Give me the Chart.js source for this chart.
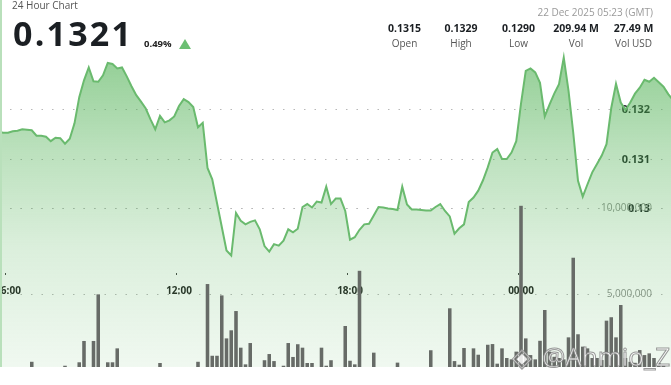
<!DOCTYPE html>
<html>
<head>
<meta charset="utf-8">
<script src="https://cdn.jsdelivr.net/npm/chart.js@4.4.1/dist/chart.umd.min.js"></script>
<style>
  body { margin: 0; background: #fff; font-family: "Open Sans", sans-serif; }
  #wrap { position: absolute; left: 0; top: 0; width: 671px; height: 367px; overflow: hidden; }
  #c { position: absolute; left: -11px; top: 0; }
  #edge { position: absolute; left: 0; top: 0; width: 2px; height: 367px; background: #b9e0bb; }
  .t { position: absolute; white-space: nowrap; }
  #title { left: 12px; top: -2px; font-size: 10px; color: #555; }
  #price { left: 13px; top: 10px; font-size: 34px; font-weight: 700; color: #1b1f23; letter-spacing: 2.2px; }
  #chg { left: 144px; top: 37px; font-size: 9.5px; font-weight: 700; color: #222; }
  #tri { left: 179px; top: 39px; width: 0; height: 0; border-left: 6.5px solid transparent; border-right: 6.5px solid transparent; border-bottom: 10px solid #6cbf73; }
  #date { right: 18px; top: 5px; font-size: 10px; color: #9a9a9a; }
  .stat { position: absolute; top: 21px; width: 60px; text-align: center; }
  .stat b { display: block; font-size: 10.5px; color: #1b1f23; line-height: 15px; }
  .stat span { display: block; font-size: 10px; color: #555; line-height: 15px; }
  #wm { position: absolute; left: 512px; top: 338px; font-size: 26px; color: rgba(255,255,255,0.85);
        -webkit-text-stroke: 1px rgba(120,120,120,0.75); white-space: nowrap; }
  #wm i { font-style: normal; font-family: "DejaVu Sans"; font-size: 26px; margin-right: 10px; }
</style>
</head>
<body>
<div id="wrap"><canvas id="c" width="684" height="390"></canvas></div>
<div id="edge"></div>
<div class="t" id="title">24 Hour Chart</div>
<div class="t" id="price">0.1321</div>
<div class="t" id="chg">0.49%</div>
<div class="t" id="tri"></div>
<div class="t" id="date">22 Dec 2025 05:23 (GMT)</div>
<div id="stats"></div>
<div id="wm"><i>◈</i>@Ahmio_Z</div>

<script>
"use strict";

// 10 minute steps, 05:20 -> 05:20 next day
var TIMES = [];
for (var m = 5 * 60 + 20; m <= 29 * 60 + 20; m += 10) {
    var h = Math.floor(m / 60) % 24, mm = m % 60;
    TIMES.push((h < 10 ? '0' : '') + h + ':' + (mm < 10 ? '0' : '') + mm);
}
var TIME_TICKS = ['06:00', '12:00', '18:00', '00:00'];

var PRICE = [
    0.13156, 0.13156, 0.13156, 0.13154, 0.13154, 0.13157, 0.13158, 0.13161, 0.13160, 0.13159,
    0.13148, 0.13148, 0.13146, 0.13137, 0.13144, 0.13143, 0.13132, 0.13142, 0.13173, 0.13226,
    0.13260, 0.13286, 0.13258, 0.13257, 0.13270, 0.13295, 0.13293, 0.13284, 0.13286, 0.13268,
    0.13248, 0.13230, 0.13217, 0.13203, 0.13181, 0.13161, 0.13188, 0.13175, 0.13179, 0.13187,
    0.13208, 0.13222, 0.13216, 0.13206, 0.13165, 0.13174, 0.13083, 0.13060, 0.13012, 0.12964,
    0.12916, 0.12906, 0.12992, 0.12976, 0.12969, 0.12974, 0.12977, 0.12959, 0.12925, 0.12914,
    0.12929, 0.12926, 0.12936, 0.12959, 0.12953, 0.12960, 0.13004, 0.13010, 0.13003, 0.13015,
    0.13013, 0.13045, 0.13010, 0.13021, 0.13021, 0.12996, 0.12938, 0.12943, 0.12958, 0.12969,
    0.12970, 0.12987, 0.13004, 0.13003, 0.13001, 0.13000, 0.12998, 0.13045, 0.13009, 0.12999,
    0.12999, 0.12998, 0.12997, 0.12997, 0.13004, 0.13010, 0.12996, 0.12985, 0.12950, 0.12961,
    0.12969, 0.13014, 0.13023, 0.13037, 0.13058, 0.13084, 0.13114, 0.13121, 0.13101, 0.13101,
    0.13114, 0.13137, 0.13213, 0.13279, 0.13284, 0.13276, 0.13255, 0.13187, 0.13211, 0.13233,
    0.13252, 0.13306, 0.13239, 0.13154, 0.13057, 0.13025, 0.13050, 0.13074, 0.13091, 0.13108,
    0.13131, 0.13204, 0.13253, 0.13215, 0.13200, 0.13215, 0.13233, 0.13245, 0.13261, 0.13257,
    0.13265, 0.13256, 0.13247, 0.13232, 0.13220
];

var VOLUME = [
    0, 0, 0, 0, 0, 0, 0, 0, 0, 1060000,
    0, 0, 0, 0, 0, 0, 830000, 0, 0, 1030000,
    2270000, 0, 2270000, 4980000, 0, 1030000, 1030000, 1840000, 0, 0,
    0, 0, 0, 0, 0, 0, 990000, 0, 0, 0,
    0, 0, 0, 0, 1060000, 0, 5580000, 1410000, 1410000, 4920000,
    2420000, 2890000, 4010000, 1880000, 910000, 2150000, 0, 0, 1150000, 1510000,
    1100000, 0, 830000, 2150000, 1340000, 2080000, 1880000, 990000, 990000, 0,
    1880000, 830000, 1150000, 0, 0, 3140000, 1120000, 910000, 6350000, 0,
    0, 1590000, 0, 0, 0, 0, 1010000, 0, 0, 0,
    0, 0, 0, 1730000, 0, 0, 0, 4170000, 1100000, 890000,
    1860000, 0, 1840000, 1470000, 0, 2050000, 2090000, 950000, 1840000, 1280000,
    1200000, 1650000, 10130000, 2420000, 1450000, 1200000, 2280000, 4070000, 1650000, 1350000,
    1280000, 1200000, 2480000, 7110000, 2660000, 1940000, 1840000, 1280000, 1280000, 1160000,
    3450000, 3650000, 2480000, 4360000, 1280000, 1060000, 1000000, 1740000, 1450000, 1550000,
    1280000, 990000, 870000, 0, 0
];

var PRICE_TICKS = [0.13, 0.131, 0.132];
var VOLUME_TICKS = [5000000, 10000000];

var STATS = [
    ['0.1315', 'Open'],
    ['0.1329', 'High'],
    ['0.1290', 'Low'],
    ['209.94 M', 'Vol'],
    ['27.49 M', 'Vol USD']
];

var statLeft = [374.5, 431, 488.5, 546, 603.5];
STATS.forEach(function (s, i) {
    var d = document.createElement('div');
    d.className = 'stat';
    d.style.left = statLeft[i] + 'px';
    d.innerHTML = '<b>' + s[0] + '</b><span>' + s[1] + '</span>';
    document.getElementById('stats').appendChild(d);
});

function fillGradient(context) {
    var chart = context.chart;
    var area = chart.chartArea;
    if (!area) return 'rgba(76,175,80,0.3)';
    var g = chart.ctx.createLinearGradient(0, area.top, 0, area.bottom);
    g.addColorStop(0, 'rgba(76,175,80,0.62)');
    g.addColorStop(0.3, 'rgba(76,175,80,0.38)');
    g.addColorStop(0.6, 'rgba(76,175,80,0.2)');
    g.addColorStop(1, 'rgba(76,175,80,0.07)');
    return g;
}

function isTimeTick(i) {
    return TIME_TICKS.indexOf(TIMES[i]) >= 0;
}

var dotted = { color: '#b8b8b8', lineWidth: 1, drawTicks: false };

new Chart(document.getElementById('c'), {
    type: 'line',
    data: {
        labels: TIMES,
        datasets: [
            {
                type: 'bar',
                data: VOLUME,
                yAxisID: 'vol',
                backgroundColor: '#676b67',
                barPercentage: 0.75,
                categoryPercentage: 1,
                order: 0
            },
            {
                type: 'line',
                data: PRICE,
                yAxisID: 'y',
                borderColor: '#6aba6e',
                borderWidth: 2,
                pointRadius: 0,
                tension: 0,
                fill: 'start',
                backgroundColor: fillGradient,
                order: 1
            }
        ]
    },
    options: {
        responsive: false,
        animation: false,
        devicePixelRatio: 1,
        layout: { padding: { top: 50, bottom: 10, left: 0, right: 0 } },
        plugins: { legend: { display: false }, tooltip: { enabled: false } },
        scales: {
            x: {
                type: 'category',
                offset: false,
                position: { y: 0.12870 },
                border: { display: false },
                grid: {
                    drawOnChartArea: false,
                    drawTicks: true,
                    tickLength: 2,
                    color: function (ctx) { return isTimeTick(ctx.index) ? '#444' : 'rgba(0,0,0,0)'; }
                },
                z: 1,
                afterFit: function (s) { s.height = 0; s.paddingLeft = 0; s.paddingRight = 0; },
                ticks: {
                    autoSkip: false,
                    maxRotation: 0,
                    minRotation: 0,
                    padding: 10,
                    color: '#222',
                    font: { family: 'Open Sans', size: 10, weight: 'bold' },
                    callback: function (v, i) { return isTimeTick(i) ? TIMES[i] : ''; }
                }
            },
            y: {
                position: 'right',
                min: 0.126545,
                max: 0.133212,
                z: 1,
                border: { display: false, dash: [1.5, 9] },
                grid: dotted,
                afterBuildTicks: function (s) { s.ticks = PRICE_TICKS.map(function (v) { return { value: v }; }); },
                afterFit: function (s) { s.width = 0; },
                ticks: {
                    mirror: true,
                    padding: -23,
                    color: '#1b1f23',
                    font: { family: 'Open Sans', size: 11, weight: 'bold' },
                    callback: function (v) { return String(+v.toFixed(3)); }
                }
            },
            vol: {
                position: 'right',
                min: 0,
                max: 19190000,
                border: { display: false, dash: [1.5, 9] },
                grid: dotted,
                afterBuildTicks: function (s) { s.ticks = VOLUME_TICKS.map(function (v) { return { value: v }; }); },
                afterFit: function (s) { s.width = 0; },
                ticks: {
                    mirror: true,
                    padding: -21,
                    color: '#8c8f8c',
                    font: { family: 'Open Sans', size: 10 },
                    callback: function (v) { return v.toLocaleString('en-US'); }
                }
            }
        }
    }
});
</script>
</body>
</html>
